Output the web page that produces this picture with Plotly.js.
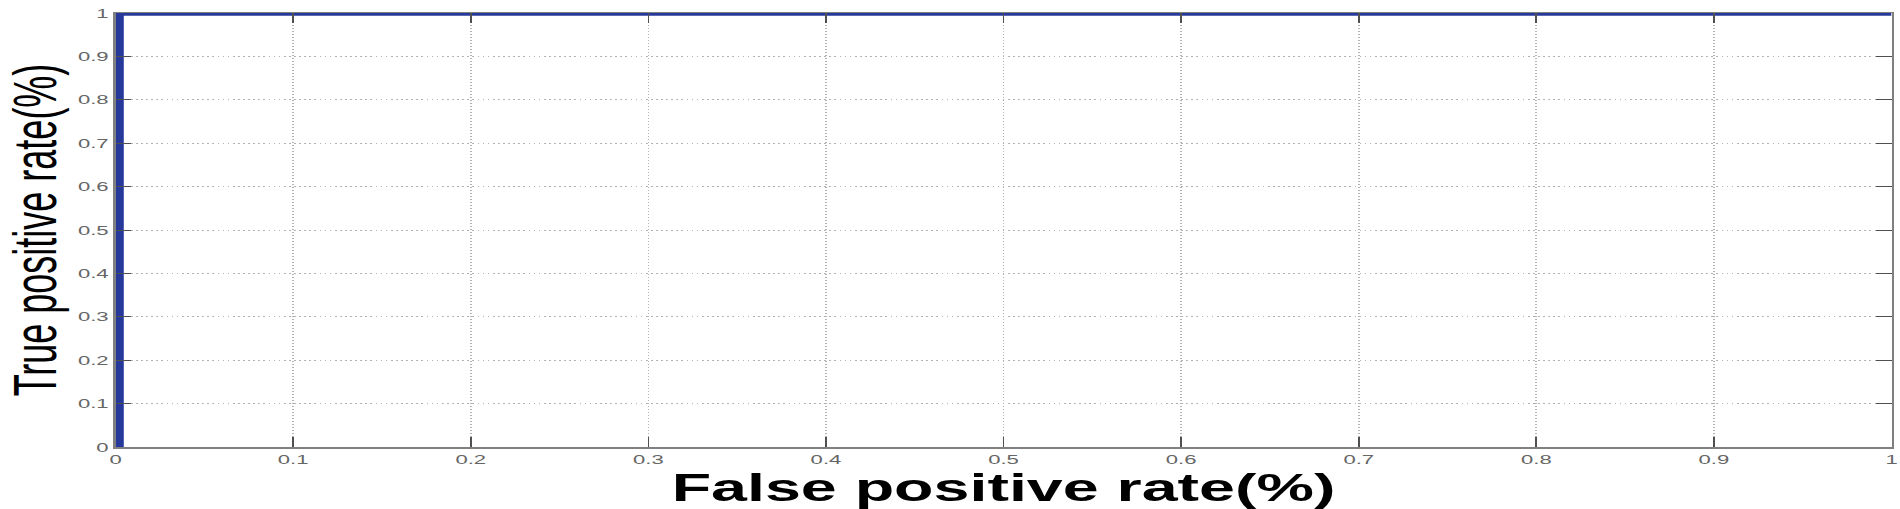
<!DOCTYPE html>
<html>
<head>
<meta charset="utf-8">
<script src="https://cdn.plot.ly/plotly-3.0.1.min.js"></script>
<style>
  html, body { margin: 0; padding: 0; background: #ffffff; overflow: hidden; }
  #wrap { width: 1900px; height: 509px; overflow: hidden; }
  #chart { width: 1118px; height: 509px; transform: scaleX(1.6995); transform-origin: 0 0; }
</style>
</head>
<body>
<div id="wrap"><div id="chart"></div></div>
<script>
// ROC curve data
var falsePositiveRate = [0.002, 0.002, 1];
var truePositiveRate = [0, 1, 1];
var tickValues = [0, 0.1, 0.2, 0.3, 0.4, 0.5, 0.6, 0.7, 0.8, 0.9, 1];
var tickLabels = ['0', '0.1', '0.2', '0.3', '0.4', '0.5', '0.6', '0.7', '0.8', '0.9', '1'];
var xTitle = 'False positive rate(%)';
var yTitle = 'True positive rate(%)';

var trace = {
  x: falsePositiveRate,
  y: truePositiveRate,
  type: 'scatter',
  mode: 'lines',
  line: { color: '#27389b', width: 5.5 },
  cliponaxis: false,
  hoverinfo: 'skip'
};

var axisCommon = {
  range: [0, 1],
  tickmode: 'array',
  tickvals: tickValues,
  ticktext: tickLabels,
  ticks: 'inside',
  tickcolor: '#505050',
  tickwidth: 1,
  showline: true,
  linecolor: '#808080',
  linewidth: 1.5,
  mirror: 'ticks',
  showgrid: true,
  gridcolor: '#b2b2b2',
  gridwidth: 1,
  griddash: '1px,2px',
  zeroline: false,
  tickfont: { family: 'Liberation Sans, Arial, sans-serif', size: 13, color: '#666666' },
  fixedrange: true
};

var layout = {
  width: 1118,
  height: 509,
  margin: { l: 68, r: 5, t: 13, b: 62 },
  paper_bgcolor: '#ffffff',
  plot_bgcolor: '#ffffff',
  showlegend: false,
  xaxis: Object.assign({}, axisCommon, {
    ticklen: 10,
    title: { text: xTitle, font: { family: 'Liberation Sans, Arial, sans-serif', size: 38, color: '#000000', weight: 'bold' }, standoff: 0 }
  }),
  yaxis: Object.assign({}, axisCommon, {
    ticklen: 9,
    title: { text: yTitle, font: { family: 'Liberation Sans, Arial, sans-serif', size: 36, color: '#000000' } }
  })
};

Plotly.newPlot('chart', [trace], layout, { displayModeBar: false, staticPlot: true });
</script>
</body>
</html>
